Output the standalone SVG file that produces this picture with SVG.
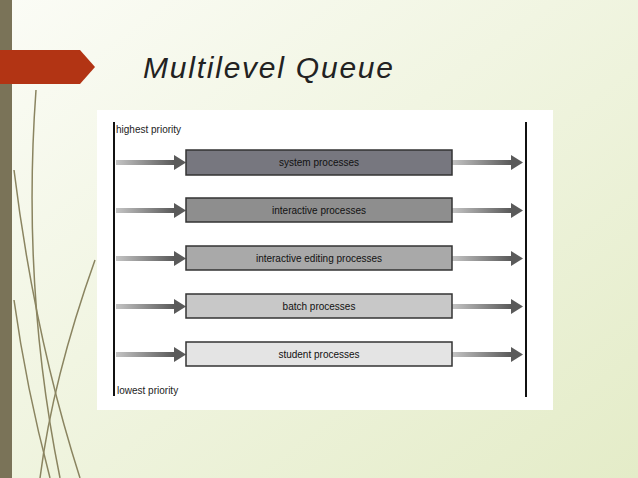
<svg xmlns="http://www.w3.org/2000/svg" width="638" height="478" viewBox="0 0 638 478">
<defs>
<linearGradient id="bg" x1="0" y1="0" x2="1" y2="1"><stop offset="0" stop-color="#fbfcf6"/><stop offset="1" stop-color="#e4ecc8"/></linearGradient>
<linearGradient id="ag" x1="0" y1="0" x2="1" y2="0"><stop offset="0" stop-color="#c4c4c4"/><stop offset="1" stop-color="#5a5a5a"/></linearGradient>
<style>
.box{stroke:#333;stroke-width:1.5}
.lbl{font-family:"Liberation Sans",Arial,sans-serif;font-size:10px;fill:#111;text-anchor:middle}
.pr{font-family:"Liberation Sans",Arial,sans-serif;font-size:10px;fill:#222}
.ah{fill:#5a5a5a}
</style>
</defs>
<rect width="638" height="478" fill="url(#bg)"/>
<g fill="none" stroke="#8a8460" stroke-width="1.5">
<path d="M36,90 C28,200 30,330 60,478"/>
<path d="M14,170 C30,300 55,400 80,478"/>
<path d="M14,300 C25,380 40,440 50,478"/>
<path d="M95,260 C70,330 50,400 40,478"/>
</g>
<rect x="0" y="0" width="12" height="478" fill="#7a7358"/>
<path d="M0,50 L80,50 L95,67 L80,84 L0,84 Z" fill="#b23414"/>
<text x="143" y="78" font-family="Liberation Sans,Arial,sans-serif" font-style="italic" font-size="30" fill="#222" textLength="250" lengthAdjust="spacing">Multilevel Queue</text>
<rect x="97" y="110" width="456" height="300" fill="#fff"/>
<g id="axes" stroke="#111" stroke-width="2">
<line x1="114" y1="122" x2="114" y2="396"/>
<line x1="526" y1="122" x2="526" y2="397"/>
</g>
<text class="pr" x="116" y="133">highest priority</text>
<text class="pr" x="117" y="394">lowest priority</text>
<g id="connectors">
<g><rect x="116" y="160" width="58" height="5" fill="url(#ag)"/><path class="ah" d="M174,155 L186,162.5 L174,170 Z"/><rect x="452" y="160" width="59" height="5" fill="url(#ag)"/><path class="ah" d="M511,155 L523,162.5 L511,170 Z"/></g>
<g><rect x="116" y="208" width="58" height="5" fill="url(#ag)"/><path class="ah" d="M174,203 L186,210.5 L174,218 Z"/><rect x="452" y="208" width="59" height="5" fill="url(#ag)"/><path class="ah" d="M511,203 L523,210.5 L511,218 Z"/></g>
<g><rect x="116" y="256" width="58" height="5" fill="url(#ag)"/><path class="ah" d="M174,251 L186,258.5 L174,266 Z"/><rect x="452" y="256" width="59" height="5" fill="url(#ag)"/><path class="ah" d="M511,251 L523,258.5 L511,266 Z"/></g>
<g><rect x="116" y="304" width="58" height="5" fill="url(#ag)"/><path class="ah" d="M174,299 L186,306.5 L174,314 Z"/><rect x="452" y="304" width="59" height="5" fill="url(#ag)"/><path class="ah" d="M511,299 L523,306.5 L511,314 Z"/></g>
<g><rect x="116" y="352" width="58" height="5" fill="url(#ag)"/><path class="ah" d="M174,347 L186,354.5 L174,362 Z"/><rect x="452" y="352" width="59" height="5" fill="url(#ag)"/><path class="ah" d="M511,347 L523,354.5 L511,362 Z"/></g>
</g>
<g id="system"><rect class="box" x="186" y="150" width="266" height="25" fill="#77777f"/><text class="lbl" x="319" y="166">system processes</text></g>
<g id="interactive"><rect class="box" x="186" y="198" width="266" height="24" fill="#8e8e8e"/><text class="lbl" x="319" y="214">interactive processes</text></g>
<g id="editing"><rect class="box" x="186" y="246" width="266" height="24" fill="#a9a9a9"/><text class="lbl" x="319" y="262">interactive editing processes</text></g>
<g id="batch"><rect class="box" x="186" y="294" width="266" height="24" fill="#c8c8c8"/><text class="lbl" x="319" y="310">batch processes</text></g>
<g id="student"><rect class="box" x="186" y="342" width="266" height="24" fill="#e4e4e4"/><text class="lbl" x="319" y="358">student processes</text></g>
</svg>
